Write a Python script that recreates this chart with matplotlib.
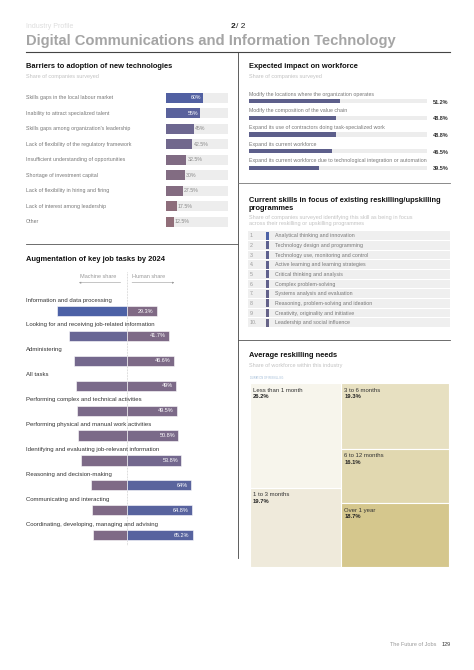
import matplotlib
matplotlib.use('Agg')
import matplotlib.pyplot as plt
from matplotlib import transforms
from matplotlib.colors import LinearSegmentedColormap, Normalize
import numpy as np

plt.rcParams['font.family'] = ['Liberation Sans', 'DejaVu Sans']

W, H = 474, 670

# ---------------- data ----------------
barrier_labels = [
    "Skills gaps in the local labour market",
    "Inability to attract specialized talent",
    "Skills gaps among organization's leadership",
    "Lack of flexibility of the regulatory framework",
    "Insufficient understanding of opportunities",
    "Shortage of investment capital",
    "Lack of flexibility in hiring and firing",
    "Lack of interest among leadership",
    "Other",
]
barrier_values = [60, 55, 45, 42.5, 32.5, 30, 27.5, 17.5, 12.5]

impact_labels = [
    "Modify the locations where the organization operates",
    "Modify the composition of the value chain",
    "Expand its use of contractors doing task-specialized work",
    "Expand its current workforce",
    "Expand its current workforce due to technological integration or automation",
]
impact_values = [51.2, 48.8, 48.8, 46.5, 39.5]

skill_labels = [
    "Analytical thinking and innovation",
    "Technology design and programming",
    "Technology use, monitoring and control",
    "Active learning and learning strategies",
    "Critical thinking and analysis",
    "Complex problem-solving",
    "Systems analysis and evaluation",
    "Reasoning, problem-solving and ideation",
    "Creativity, originality and initiative",
    "Leadership and social influence",
]
skill_colors = ['#4d62a6', '#5c608f', '#5d608e', '#5e608d', '#5f608c',
                '#60608b', '#62618a', '#636189', '#656288', '#666387']

task_labels = [
    "Information and data processing",
    "Looking for and receiving job-related information",
    "Administering",
    "All tasks",
    "Performing complex and technical activities",
    "Performing physical and manual work activities",
    "Identifying and evaluating job-relevant information",
    "Reasoning and decision-making",
    "Communicating and interacting",
    "Coordinating, developing, managing and advising",
]
human_share = [29.3, 41.7, 46.6, 49, 49.5, 50.8, 53.8, 64, 64.8, 65.2]
machine_share = [70.7, 58.3, 53.4, 51, 50.5, 49.2, 46.2, 36, 35.2, 34.8]

reskill_labels = ["Less than 1 month", "1 to 3 months", "3 to 6 months",
                  "6 to 12 months", "Over 1 year"]
reskill_values = [26.2, 19.7, 19.3, 16.1, 18.7]
reskill_colors = ['#f7f5ec', '#efeadb', '#e7e0c1', '#e1d8b0', '#d5c78d']

# ---------------- figure ----------------
fig = plt.figure(figsize=(W / 100, H / 100), dpi=100)
fig.patch.set_facecolor('white')

ov = fig.add_axes([0, 0, 1, 1])
ov.set_xlim(0, W)
ov.set_ylim(H, 0)
ov.axis('off')


def add_ax(x0, y0, x1, y1):
    a = fig.add_axes([x0 / W, 1 - y1 / H, (x1 - x0) / W, (y1 - y0) / H])
    a.patch.set_alpha(0)
    return a


TITLE_FS = 5.4
SUB_FS = 4.0
LAB_FS = 3.8
GREY_SUB = '#c2c2c2'

# header
ov.text(26, 26, "Industry Profile", fontsize=5, color='#dddddd', va='center')
ov.text(235.5, 27, "2", fontsize=6, color='#222222', va='center', ha='right',
        fontweight='bold')
ov.text(236.5, 27, "/ 2", fontsize=6, color='#222222', va='center', ha='left')
ov.text(26, 40.5, "Digital Communications and Information Technology",
        fontsize=10.6, color='#a5a5a5', fontweight='bold', va='center')
ov.plot([26, 450], [52, 52], color='#444444', lw=0.8)
ov.plot([238, 238], [52, 558], color='#444444', lw=0.6)
ov.plot([26, 238], [244, 244], color='#555555', lw=0.6)
ov.plot([238, 450], [183, 183], color='#777777', lw=0.6)
ov.plot([238, 450], [340, 340], color='#555555', lw=0.6)

# footer
ov.text(436, 645, "The Future of Jobs", fontsize=4, color='#9a9a9a', ha='right', va='center')
ov.text(442, 645, "129", fontsize=4, color='#333333', ha='left', va='center')

# ---------------- Barriers ----------------
ov.text(26, 66.7, "Barriers to adoption of new technologies", fontsize=TITLE_FS,
        fontweight='bold', color='#111111', va='center')
ov.text(26, 76.7, "Share of companies surveyed", fontsize=SUB_FS, color=GREY_SUB, va='center')

cmap_b = LinearSegmentedColormap.from_list('b', ['#916e79', '#7d6b85', '#5160a2'])
norm_b = Normalize(min(barrier_values), max(barrier_values))
axb = add_ax(166, 89.95, 227.7, 229.75)
nb = len(barrier_values)
yb = np.arange(nb)
axb.barh(yb, [100] * nb, height=0.645, color='#ededed')
axb.barh(yb, barrier_values, height=0.645, color=[cmap_b(norm_b(v)) for v in barrier_values])
axb.set_xlim(0, 100)
axb.set_ylim(nb - 0.5, -0.5)
axb.axis('off')
trb = transforms.blended_transform_factory(ov.transData, axb.transData)
for i, (lab, v) in enumerate(zip(barrier_labels, barrier_values)):
    axb.text(26, i, lab, transform=trb, fontsize=LAB_FS, color='#777777', va='center')
    if v >= 50:
        axb.text(v - 3, i, f"{v:g}%", fontsize=LAB_FS, color='white', va='center', ha='right')
    else:
        axb.text(v + 2, i, f"{v:g}%", fontsize=LAB_FS, color='#8a8a8a', va='center', ha='left')

# ---------------- Expected impact ----------------
ov.text(249, 66.7, "Expected impact on workforce", fontsize=TITLE_FS,
        fontweight='bold', color='#111111', va='center')
ov.text(249, 76.7, "Share of companies surveyed", fontsize=SUB_FS, color=GREY_SUB, va='center')

axi = add_ax(249, 92.67, 426.7, 176)
ni = len(impact_values)
yi = np.arange(ni)
axi.barh(yi, [100] * ni, height=0.26, color='#ededed')
axi.barh(yi, impact_values, height=0.26, color='#5d5f8b')
axi.set_xlim(0, 100)
axi.set_ylim(ni - 0.5, -0.5)
axi.axis('off')
tri = transforms.blended_transform_factory(ov.transData, axi.transData)
for i, (lab, v) in enumerate(zip(impact_labels, impact_values)):
    axi.text(0, i - 0.42, lab, fontsize=LAB_FS, color='#777777', va='center', ha='left')
    axi.text(432.7, i + 0.06, f"{v:g}%", transform=tri, fontsize=4, color='#333333',
             fontweight='bold', va='center', ha='left')

# ---------------- Current skills ----------------
ov.text(249, 200, "Current skills in focus of existing reskilling/upskilling",
        fontsize=TITLE_FS, fontweight='bold', color='#111111', va='center')
ov.text(249, 208.3, "programmes", fontsize=TITLE_FS, fontweight='bold', color='#111111', va='center')
ov.text(249, 217, "Share of companies surveyed identifying this skill as being in focus",
        fontsize=SUB_FS, color=GREY_SUB, va='center')
ov.text(249, 224, "across their reskilling or upskilling programmes",
        fontsize=SUB_FS, color=GREY_SUB, va='center')

axs = add_ax(248, 230.9, 450, 327.5)
ns = len(skill_labels)
ys = np.arange(ns)
axs.barh(ys, [202] * ns, height=0.9, color='#efefef')
axs.barh(ys, [3] * ns, left=18, height=0.85, color=skill_colors)
axs.set_xlim(0, 202)
axs.set_ylim(ns - 0.5, -0.5)
axs.axis('off')
for i, lab in enumerate(skill_labels):
    axs.text(2, i, f"{i + 1}.", fontsize=LAB_FS, color='#9a9a9a', va='center')
    axs.text(27, i, lab, fontsize=LAB_FS, color='#777777', va='center')

# ---------------- Augmentation ----------------
ov.text(26, 259.3, "Augmentation of key job tasks by 2024", fontsize=TITLE_FS,
        fontweight='bold', color='#111111', va='center')
ov.text(98, 276.7, "Machine share", fontsize=SUB_FS, color='#999999', va='center', ha='center')
ov.text(149, 276.7, "Human share", fontsize=SUB_FS, color='#999999', va='center', ha='center')
arrow_kw = dict(arrowstyle='-|>', color='#999999', lw=0.4, shrinkA=0, shrinkB=0, mutation_scale=2.5)
ov.annotate('', xy=(79, 282.7), xytext=(120.7, 282.7), arrowprops=arrow_kw)
ov.annotate('', xy=(174.3, 282.7), xytext=(132, 282.7), arrowprops=arrow_kw)

cmap_a = LinearSegmentedColormap.from_list('a', ['#806a85', '#7c6a88', '#4c61a6'])
norm_a = Normalize(30, 70)
axa = add_ax(27.3, 298.55, 227.3, 547.6)
na = len(human_share)
ya = np.arange(na)
axa.plot([0, 0], [-1.55, 9.4], ls=(0, (1, 1.2)), color='#bbbbbb', lw=0.5, clip_on=False, zorder=0)
axa.barh(ya, [-m for m in machine_share], height=0.41,
         color=[cmap_a(norm_a(m)) for m in machine_share], edgecolor='white', linewidth=0.4)
axa.barh(ya, human_share, height=0.41,
         color=[cmap_a(norm_a(h)) for h in human_share], edgecolor='white', linewidth=0.4)
axa.set_xlim(-100, 100)
axa.set_ylim(na - 0.5, -0.5)
axa.axis('off')
tra = transforms.blended_transform_factory(ov.transData, axa.transData)
for i, (lab, h) in enumerate(zip(task_labels, human_share)):
    axa.text(26, i - 0.44, lab, transform=tra, fontsize=4.3, color='#333333', va='center')
    axa.text(h - 3, i, f"{h:g}%", fontsize=4.0, color='white', va='center', ha='right')

# ---------------- Average reskilling needs ----------------
ov.text(249, 355.7, "Average reskilling needs", fontsize=TITLE_FS,
        fontweight='bold', color='#111111', va='center')
ov.text(249, 365.7, "Share of workforce within this industry", fontsize=SUB_FS,
        color=GREY_SUB, va='center')
ov.text(250, 378, "DURATION OF RESKILLING", fontsize=1.8, color='#9bb7d4', va='center')

axt = add_ax(250, 383.3, 449.3, 566.7)
axt.set_xlim(0, 1)
axt.set_ylim(1, 0)
axt.axis('off')
total = sum(reskill_values)
columns = [[0, 1], [2, 3, 4]]
x0 = 0.0
for col in columns:
    csum = sum(reskill_values[k] for k in col)
    w = csum / total
    y0 = 0.0
    for k in col:
        h = reskill_values[k] / csum
        axt.bar(x0, h, width=w, bottom=y0, align='edge', color=reskill_colors[k],
                edgecolor='white', linewidth=0.8)
        axt.text(x0 + 0.014, y0 + 0.037, reskill_labels[k], fontsize=4.3, color='#333333', va='center')
        axt.text(x0 + 0.014, y0 + 0.073, f"{reskill_values[k]:g}%", fontsize=4.2,
                 color='#222222', fontweight='bold', va='center')
        y0 += h
    x0 += w

fig.savefig('out.png', dpi=100)
